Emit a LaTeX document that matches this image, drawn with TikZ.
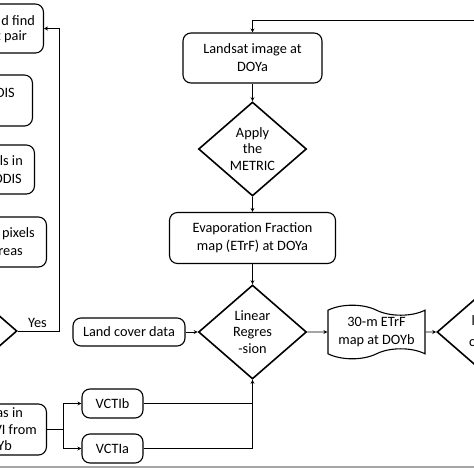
\documentclass[tikz,border=0pt]{standalone}
\usepackage{fontspec}
\setmainfont{Carlito}
\usetikzlibrary{shapes.geometric,shapes.symbols,arrows.meta}
\tikzset{
  box/.style={draw, rounded corners=8pt, line width=1.1pt, align=center, inner sep=2pt},
  check/.style={draw, diamond, line width=1.6pt, aspect=1.14, minimum width=108pt, minimum height=94pt, inner sep=0pt, align=center, font=\fontsize{14.3}{16.5}\selectfont},
  wavy/.style={draw, tape, tape bend top=out and in, tape bend bottom=in and out, tape bend height=10pt, line width=1.1pt, align=center, inner sep=2pt},
  flow/.style={-{Stealth[length=4pt,width=4pt]}, line width=0.9pt},
  cut/.style={anchor=base east, inner sep=0pt}
}

\begin{document}
\begin{tikzpicture}[x=1pt, y=-1pt, font=\fontsize{14.3}{18}\selectfont]
\useasboundingbox (0,0) rectangle (474,474);
\clip (0,0) rectangle (474,474);

% main column
\node[box, minimum width=139pt, minimum height=50pt] (landsat) at (252.5,58) {Landsat image at\\DOYa};
\node[check] (metric) at (252.5,149) {Apply\\the\\METRIC};
\node[box, minimum width=166pt, minimum height=51pt] (etrfa) at (252.5,238) {Evaporation Fraction\\map (ETrF) at DOYa};
\node[check] (linreg) at (252.5,332) {Linear\\Regres\\-sion};
\node[box, minimum width=112pt, minimum height=28pt] (landcover) at (129,332) {Land cover data};
\node[wavy, minimum width=97pt, minimum height=48pt] (etrfb) at (376.5,332) {30-m ETrF\\map at DOYb};
\node[check] (rightcheck) at (491,332) {};
\node[anchor=base west, inner sep=0pt] (righttxta) at (471.5,325) {l};
\node[anchor=base west, inner sep=0pt] (righttxtb) at (469,346) {c};

% left column, cut at the edge
\node[box, anchor=east, minimum width=120pt, minimum height=49pt] (findbox) at (44,28.5) {};
\node[cut] (findtxta) at (35,25) {d find};
\node[cut] (findtxtb) at (27,40) {t pair};
\node[box, anchor=east, minimum width=120pt, minimum height=51pt] (disbox) at (33,100.5) {};
\node[cut] (distxt) at (15,97) {DIS};
\node[box, anchor=east, minimum width=120pt, minimum height=49pt] (inbox) at (35,169.5) {};
\node[cut] (intxta) at (23,165) {ls in};
\node[cut] (intxtb) at (22,183) {ODIS};
\node[box, anchor=east, minimum width=120pt, minimum height=50pt] (pixbox) at (47,242) {};
\node[cut] (pixtxta) at (35,237) {pixels};
\node[cut] (pixtxtb) at (23,255) {reas};
\node[check] (leftcheck) at (-37,331) {};
\node[anchor=base, inner sep=0pt] (yes) at (37.5,327) {Yes};

\node[box, anchor=east, minimum width=120pt, minimum height=51pt] (areabox) at (47,429.5) {};
\node[cut] (areatxta) at (23,417) {as in};
\node[cut] (areatxtb) at (37,434) {VI from};
\node[cut] (areatxtc) at (12,450) {Yb};
\node[box, minimum width=61pt, minimum height=29pt] (vctib) at (112.5,403.5) {VCTIb};
\node[box, minimum width=61pt, minimum height=29pt] (vctia) at (112.5,448.5) {VCTIa};

% connectors
\coordinate (loop) at (480,20);
\draw[flow] (loop) -| (landsat.north);
\draw[flow] (landsat) -- (metric);
\draw[flow] (metric) -- (etrfa);
\draw[flow] (etrfa) -- (linreg);
\draw[flow] (landcover) -- (linreg);
\draw[flow] (linreg) -- (etrfb);
\draw[flow] (etrfb) -- (rightcheck);
\draw[line width=0.9pt] (vctib.east) -| (linreg.south);
\draw[flow] (vctia.east) -| (linreg.south);
\coordinate (fork) at (63,429.5);
\draw[line width=0.9pt] (areabox.east) -- (fork);
\draw[flow] (fork) |- (vctib.west);
\draw[flow] (fork) |- (vctia.west);
\coordinate (yesturn) at (59,331);
\draw[flow] (leftcheck.east) -- (yesturn) |- (findbox.east);

\draw[gray!70, line width=2pt] (0,467) -- (474,467);
\end{tikzpicture}
\end{document}
